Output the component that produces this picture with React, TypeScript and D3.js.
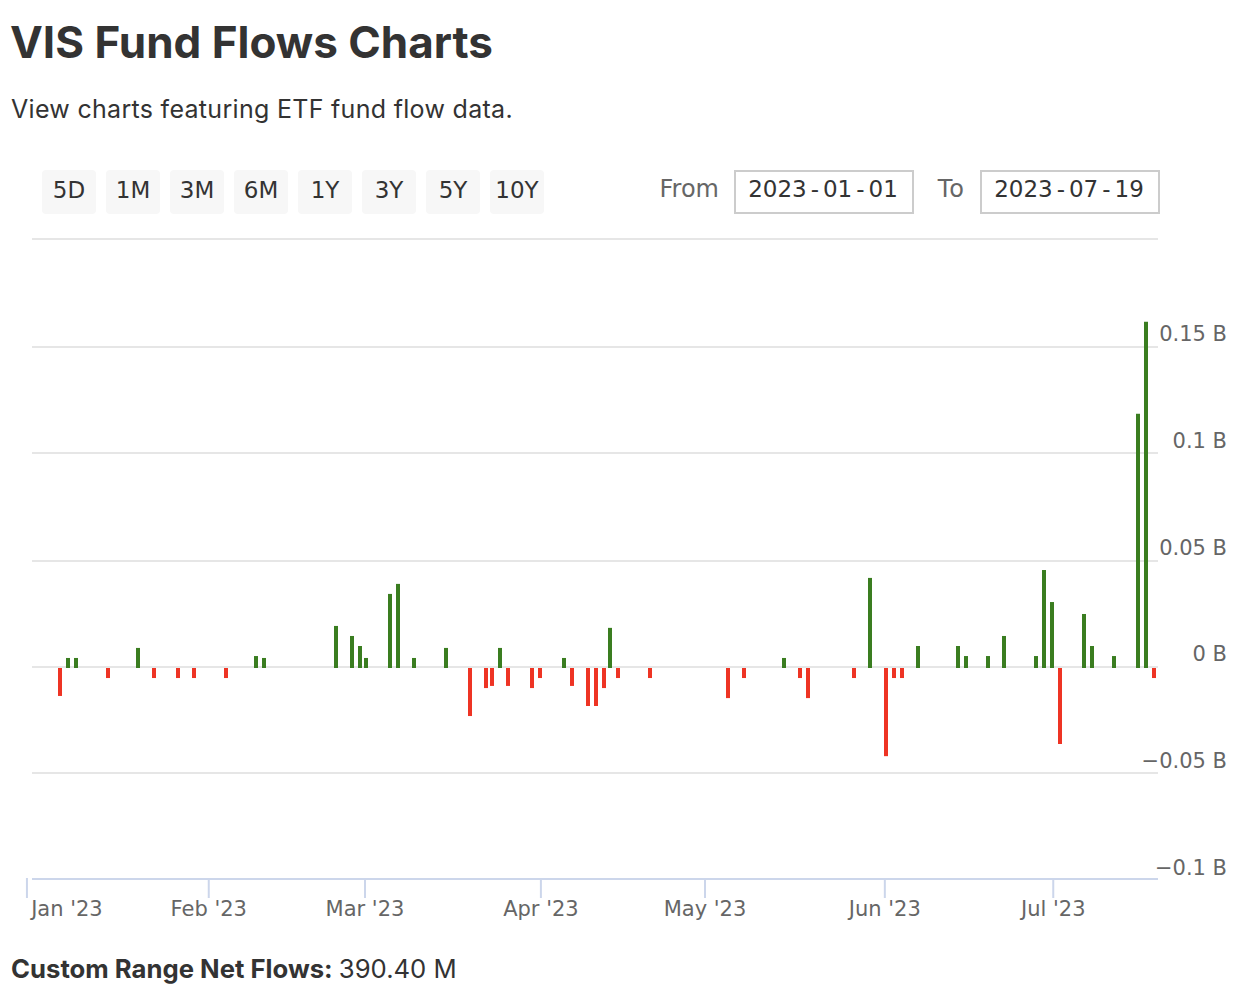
import React from 'react';
import * as d3 from 'd3';

// trading session index (0 = first bar) and net flow in millions USD
const sessions = [
  0, 1, 2, 6, 10, 12, 15, 17, 21, 25, 26, 35, 37, 38, 39, 42, 43, 45, 49, 52,
  54, 55, 56, 57, 60, 61, 64, 65, 67, 68, 69, 70, 71, 75, 85, 87, 92, 94, 95,
  101, 103, 105, 106, 107, 109, 114, 115, 118, 120, 124, 125, 126, 127, 130,
  131, 134, 137, 138, 139,
];
const flows = [
  -13.1, 4.7, 4.7, -4.7, 9.4, -4.7, -4.7, -4.7, -4.7, 5.6, 4.7, 19.7, 15, 10.3,
  4.7, 34.7, 39.4, 4.7, 9.4, -22.5, -9.4, -8.4, 9.4, -8.4, -9.4, -4.7, 4.7,
  -8.4, -17.8, -17.8, -9.4, 18.8, -4.7, -4.7, -14.1, -4.7, 4.7, -4.7, -14.1,
  -4.7, 42.2, -41.3, -4.7, -4.7, 10.3, 10.3, 5.6, 5.6, 15, 5.6, 45.9, 30.9,
  -35.6, 25.3, 10.3, 5.6, 119.1, 162.2, -4.7,
];

const monthLabels = ["Jan '23", "Feb '23", "Mar '23", "Apr '23", "May '23", "Jun '23", "Jul '23"];
const monthSessions = [-4.2, 18.9, 38.75, 61.1, 81.95, 104.8, 126.2];
const yTicks = [-100, -50, 0, 50, 100, 150, 200];
const rangeButtons = ['5D', '1M', '3M', '6M', '1Y', '3Y', '5Y', '10Y'];

const GREEN = '#3a7d20';
const RED = '#ee3424';
const chartFont = '"DejaVu Sans", sans-serif';
const pageFont = 'Inter, sans-serif';

const x = d3.scaleLinear().domain([0, 139]).range([60, 1154]);
const y = d3.scaleLinear().domain([-100, 200]).range([880.3, 239.9]);

// lines in the source sit on odd pixel centres
const snap = (v: number) => Math.floor(v / 2) * 2 + 1;

const yLabel = (m: number) => {
  if (m === 200) return '';
  if (m === 0) return '0 B';
  return `${m < 0 ? '\u2212' : ''}${Math.abs(m) / 1000} B`;
};

const DateText: React.FC<{ cx: number; value: string }> = ({ cx, value }) => {
  const parts = value.split('-');
  return (
    <text x={cx} y={197} textAnchor="middle" fontFamily={chartFont} fontSize={23} fill="#333">
      <tspan>{parts[0]}</tspan>
      <tspan dx={4}>-</tspan>
      <tspan dx={4}>{parts[1]}</tspan>
      <tspan dx={4}>-</tspan>
      <tspan dx={4}>{parts[2]}</tspan>
    </text>
  );
};

const App: React.FC = () => {
  return (
    <svg
      width={1244}
      height={994}
      style={{ position: 'absolute', left: 0, top: 0, background: '#fff' }}
    >
      <text x={10} y={58} fontFamily={pageFont} fontWeight={700} fontSize={44} fill="#333">
        VIS Fund Flows Charts
      </text>
      <text x={11} y={118} fontFamily={pageFont} fontSize={25} letterSpacing={0.3} fill="#333">
        View charts featuring ETF fund flow data.
      </text>

      {rangeButtons.map((b, i) => (
        <g key={b} transform={`translate(${42 + i * 64},170)`}>
          <rect width={54} height={44} rx={4} fill="#f7f7f7" />
          <text x={27} y={28} textAnchor="middle" fontFamily={chartFont} fontSize={23} fill="#333">
            {b}
          </text>
        </g>
      ))}

      <text x={719} y={197} textAnchor="end" fontFamily={chartFont} fontSize={24} fill="#666">
        From
      </text>
      <rect x={735} y={171} width={178} height={42} fill="#fff" stroke="#ccc" strokeWidth={2} />
      <DateText cx={823} value="2023-01-01" />
      <text x={965} y={197} textAnchor="end" fontFamily={chartFont} fontSize={24} letterSpacing={1} fill="#666">
        To
      </text>
      <rect x={981} y={171} width={178} height={42} fill="#fff" stroke="#ccc" strokeWidth={2} />
      <DateText cx={1069} value="2023-07-19" />

      {/* gridlines and y labels */}
      {yTicks.map((t) => (
        <g key={t}>
          {t !== -100 && (
            <line x1={32} x2={1158} y1={snap(y(t))} y2={snap(y(t))} stroke="#e6e6e6" strokeWidth={2} />
          )}
          <text x={1227} y={y(t) - 5.5} textAnchor="end" fontFamily={chartFont} fontSize={21} fill="#666">
            {yLabel(t)}
          </text>
        </g>
      ))}

      {/* flow bars, snapped to even pixels like the retina source */}
      {sessions.map((s, i) => {
        const v = flows[i];
        const cx = Math.round(x(s) / 2) * 2;
        const base = snap(y(0)) + 1;
        const h = Math.abs(y(v) - y(0));
        return (
          <rect
            key={s}
            x={cx - 2}
            width={4}
            y={v >= 0 ? base - h : base}
            height={h}
            fill={v >= 0 ? GREEN : RED}
          />
        );
      })}

      {/* x axis */}
      <line x1={32} x2={1158} y1={879} y2={879} stroke="#ccd6eb" strokeWidth={2} />
      {monthSessions.map((s, i) => {
        const tx = x(s);
        return (
          <g key={monthLabels[i]}>
            <line x1={tx} x2={tx} y1={i === 0 ? 878 : 880} y2={898} stroke="#ccd6eb" strokeWidth={2} />
            <text
              x={i === 0 ? tx + 40 : tx}
              y={916}
              textAnchor="middle"
              fontFamily={chartFont}
              fontSize={21}
              fill="#666"
            >
              {monthLabels[i]}
            </text>
          </g>
        );
      })}

      <text x={11} y={978} fontFamily={pageFont} fontSize={25.7} fill="#333">
        <tspan fontWeight={700}>Custom Range Net Flows: </tspan>
        <tspan>390.40 M</tspan>
      </text>
    </svg>
  );
};

export default App;
